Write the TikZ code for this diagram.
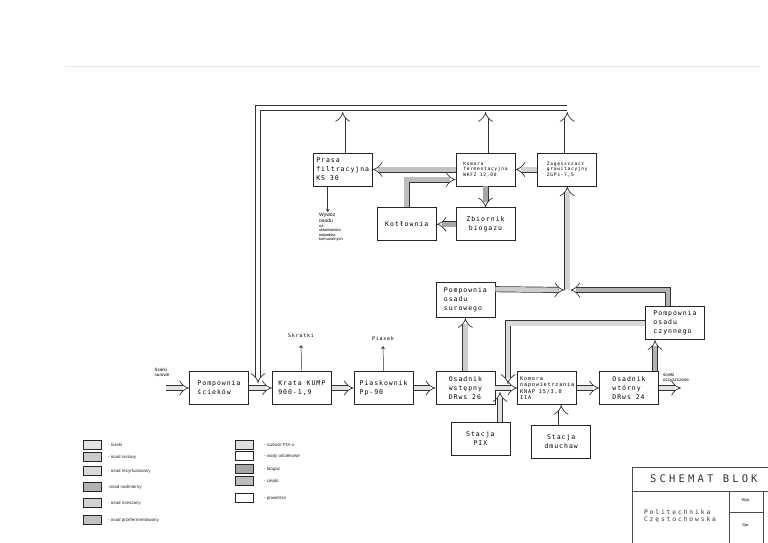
\documentclass[tikz,border=0pt]{standalone}
\usepackage{fontspec}
\setsansfont{Liberation Sans}
\setmonofont{DejaVu Sans Mono}
\newfontfamily\plotfont[LetterSpace=15]{DejaVu Sans Mono}
\newfontfamily\plotwide[LetterSpace=30]{DejaVu Sans Mono}
\usetikzlibrary{positioning, arrows.meta}

\colorlet{cScieki}{gray!22}
\colorlet{cSur}{gray!40}
\colorlet{cRec}{gray!30}
\colorlet{cNadm}{gray!60}
\colorlet{cMiesz}{gray!35}
\colorlet{cPrzef}{gray!48}
\colorlet{cPix}{gray!25}
\colorlet{cOdciek}{white}
\colorlet{cBiogaz}{gray!70}
\colorlet{cCieplo}{gray!52}
\colorlet{cPow}{white}

\begin{document}
\begin{tikzpicture}[
        x=1pt, y=-1pt,
        >=Stealth,
        % Styles
        blk/.style={draw=black!85, line width=0.8pt, fill=white, minimum width=59pt, minimum height=33pt, inner sep=2pt, align=left, font=\plotfont\fontsize{6.5}{9}\selectfont},
        blk_small/.style={blk, font=\plotfont\fontsize{4.6}{5.8}\selectfont},
        blk_mid/.style={blk, font=\plotfont\fontsize{5.2}{6.4}\selectfont},
        pipe/.style={draw=black!80, line width=0.7pt, double=#1, double distance=4.6pt, -Implies},
        pipe_plain/.style={pipe=#1, -},
        thinarrow/.style={-{Stealth[length=3pt, width=4pt]}, line width=0.5pt, draw=black!80},
        lbl/.style={font=\sffamily\fontsize{4.5}{5}\selectfont, align=left, inner sep=1pt},
        key/.style={draw=black!85, line width=0.9pt, fill=#1, minimum width=18pt, minimum height=9pt, inner sep=0pt},
        keytxt/.style={font=\sffamily\fontsize{4.5}{5}\selectfont, anchor=west, inner sep=0pt, text=black!85}
    ]
    \useasboundingbox (0,0) rectangle (768,543);
    \draw[gray!20, line width=0.4pt] (65,66) -- (760,66);

    % Ciag technologiczny sciekow (dolny rzad)
    \node[blk] (pompsciek) at (219,388) {Pompownia\\ścieków};
    \node[blk, right=23pt of pompsciek] (krata) {Krata KUMP\\900-1,9};
    \node[blk, right=22pt of krata] (piask) {Piaskownik\\Pp-90};
    \node[blk, right=22pt of piask] (oswst) {Osadnik\\wstępny\\DRws 26};
    \node[blk_mid, right=22pt of oswst] (komnap) {Komora\\napowietrzania\\KNAP 15/3,0\\IIA};
    \node[blk, right=22pt of komnap] (oswt) {Osadnik\\wtórny\\DRws 24};

    \coordinate (wlot) at (166,388);
    \coordinate (wylot) at (681,388);
    \node[lbl] (lwlot) at (162,372) {Ścieki\\surowe};
    \node[lbl, anchor=west] (lwylot) at (662,378) {ścieki\\oczyszczone};

    \draw[pipe=cScieki] (wlot) -- (pompsciek);
    \draw[pipe=cScieki] (pompsciek) -- (krata);
    \draw[pipe=cScieki] (krata) -- (piask);
    \draw[pipe=cScieki] (piask) -- (oswst);
    \draw[pipe=cScieki] (oswst) -- (komnap);
    \draw[pipe=cScieki] (komnap) -- (oswt);
    \draw[pipe=cScieki] (oswt) -- (wylot);

    % Odpady z krat i piaskownika
    \node[lbl, font=\plotfont\fontsize{5}{6}\selectfont] (skratki) at (301,336) {Skratki};
    \node[lbl, font=\plotfont\fontsize{5}{6}\selectfont] (piasek) at (383,339) {Piasek};
    \draw[thinarrow] (krata.north) -- ([yshift=-6pt]skratki.south);
    \draw[thinarrow] (piask.north) -- ([yshift=-4pt]piasek.south);

    % Stacje pomocnicze
    \node[blk, below=17pt of oswst, xshift=15pt, align=center] (pix) {Stacja\\PIX};
    \node[blk, below=20pt of komnap, xshift=14pt, align=center] (dmuch) {Stacja\\dmuchaw};
    \coordinate (pix_k) at (500,392);
    \draw[pipe=cPix] (pix.north -| pix_k) -- (pix_k);
    \draw[pipe=cPow] (dmuch) -- (dmuch |- komnap.south);

    % Gospodarka osadowa
    \node[blk, above=53pt of oswst, minimum height=35pt] (pompsur) {Pompownia\\osadu\\surowego};
    \node[blk, above=31pt of oswt, xshift=46pt] (pompczyn) {Pompownia\\osadu\\czynnego};
    \draw[pipe=cSur] (oswst) -- (pompsur);
    \draw[pipe=cNadm] ([xshift=-20pt]pompczyn.south |- oswt.north) -- ([xshift=-20pt]pompczyn.south);
    \coordinate (rec_d) at (508,384);
    \draw[pipe=cRec] (pompczyn.west) -| (rec_d);

    % Czesc osadowa (gorna)
    \node[blk_small] (komferm) at (485.5,169.5) {Komora\\fermentacyjna\\WKFZ 12,00};
    \node[blk, left=83pt of komferm] (prasa) {Prasa\\filtracyjna\\KS 30};
    \node[blk_small, right=22pt of komferm] (zageszcz) {Zagęszczacz\\grawitacyjny\\ZGPs-7,5};
    \node[blk, below=21pt of komferm, align=center] (zbiornik) {Zbiornik\\biogazu};
    \node[blk, left=19pt of zbiornik] (kotlownia) {Kotłownia};

    \coordinate (y290) at (0,290);
    \coordinate (wezel) at (zageszcz.south |- y290);
    \draw[pipe=cSur] ([yshift=11pt]pompsur.east) -- ([xshift=-3pt]wezel);
    \draw[pipe=cNadm] ([xshift=-7pt]pompczyn.north) |- ([xshift=3pt]wezel);
    \draw[pipe=cMiesz] (wezel) -- (zageszcz.south);

    \draw[pipe=cMiesz] (zageszcz) -- (komferm);
    \draw[pipe=cPrzef] (komferm) -- (prasa);
    \draw[pipe=cCieplo] (kotlownia.north) |- ([yshift=-10pt]komferm.west);
    \draw[pipe=cBiogaz] (komferm) -- (zbiornik);
    \draw[pipe=cBiogaz] (zbiornik) -- (kotlownia);

    \node[lbl, anchor=north west, font=\sffamily\fontsize{4}{4.6}\selectfont] (wywoz) at (318,212) {\fontsize{5}{5.6}\selectfont Wywóz\\\fontsize{5}{5.6}\selectfont osadu\\na\\składowisko\\odpadów\\komunalnych};
    \draw[thinarrow] ([xshift=-15pt]prasa.south) -- ([xshift=-15pt]prasa.south |- wywoz.north);

    % Wody odciekowe
    \coordinate (odc_lg) at (258,108);
    \coordinate (odc_y) at (0,112);
    \coordinate (odc_d) at (258,383);
    \coordinate (odc_pg) at (zageszcz.north |- odc_lg);
    \draw[pipe=cOdciek] (odc_pg) -- (odc_lg) -- (odc_d);
    \draw[pipe=cOdciek] (prasa.north) -- (prasa.north |- odc_y);
    \draw[pipe=cOdciek] (komferm.north) -- (komferm.north |- odc_y);
    \draw[pipe=cOdciek] (zageszcz.north) -- (zageszcz.north |- odc_y);

    % Legenda
    \foreach \y/\c/\t in {445/cScieki/- ścieki, 457/cSur/- osad surowy, 471/cRec/- osad recyrkulowany, 487/cNadm/-osad nadmierny, 503/cMiesz/- osad mieszany, 520/cPrzef/- osad przefermentowany}{
        \node[key=\c] (key_l\y) at (92,\y) {};
        \node[keytxt] (keytxt_l\y) at (108,\y) {\t};
    }
    \foreach \y/\c/\t in {445/cPix/- roztwór PIX-u, 456/cOdciek/- wody odciekowe, 469/cBiogaz/- biogaz, 481/cCieplo/- ciepło, 498/cPow/- powietrze}{
        \node[key=\c] (key_p\y) at (244,\y) {};
        \node[keytxt] (keytxt_p\y) at (264,\y) {\t};
    }

    % Tabliczka
    \draw[line width=0.6pt, black!70] (632,543) -- (632,467) -- (768,467);
    \draw[line width=0.6pt, black!70] (632,491) -- (768,491);
    \draw[line width=0.5pt, black!70] (729,491) -- (729,543);
    \draw[line width=0.5pt, black!70] (763,491) -- (763,543);
    \draw[line width=0.5pt, black!70] (729,512) -- (763,512);
    \node[anchor=west, inner sep=0pt, font=\plotwide\fontsize{10.5}{11}\selectfont, text=black!80] (tytul) at (650,479) {SCHEMAT BLOK};
    \node[align=left, inner sep=0pt, font=\plotwide\fontsize{6.3}{7.5}\selectfont, text=black!80] (uczelnia) at (680,516) {Politechnika\\Częstochowska};
    \node[inner sep=0pt, font=\sffamily\fontsize{4}{4}\selectfont] (wyk) at (746,500) {Wyk.};
    \node[inner sep=0pt, font=\sffamily\fontsize{4}{4}\selectfont] (spr) at (746,526) {Spr.};
\end{tikzpicture}
\end{document}
